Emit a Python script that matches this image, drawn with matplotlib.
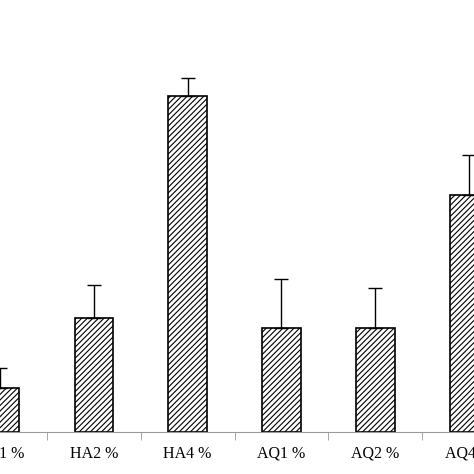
import matplotlib
matplotlib.use("Agg")
import matplotlib.pyplot as plt
import numpy as np

categories = ["HA1 %", "HA2 %", "HA4 %", "AQ1 %", "AQ2 %", "AQ4 %"]
values = [44, 114, 336, 104, 104, 237]
errors = [20, 33, 18, 49, 40, 40]

plt.rcParams['hatch.linewidth'] = 0.8
fig = plt.figure(figsize=(4.74, 4.74), dpi=100)
ax = fig.add_axes([0, 42 / 474, 1, 1 - 42 / 474])

x = np.arange(len(categories))
ax.bar(x, values, width=0.41, color="white", edgecolor="black", linewidth=1.2,
       hatch="//////", yerr=[np.zeros(len(errors)), errors],
       error_kw=dict(ecolor="black", elinewidth=1, capsize=5, capthick=1))
ax.set_xlim(0.115, 5.052)
ax.set_ylim(0, 432)
for s in ["top", "right", "left"]:
    ax.spines[s].set_visible(False)
ax.spines["bottom"].set_color("#999999")
ax.set_yticks([])
ax.set_xticks(x)
ax.set_xticklabels(categories, family="Liberation Serif", fontsize=11.5)
ax.tick_params(axis="x", which="major", length=0, pad=10)
ax.set_xticks(x[:-1] + 0.5, minor=True)
ax.tick_params(axis="x", which="minor", length=6, color="#999999", direction="out")
fig.savefig("out.png", dpi=100)
